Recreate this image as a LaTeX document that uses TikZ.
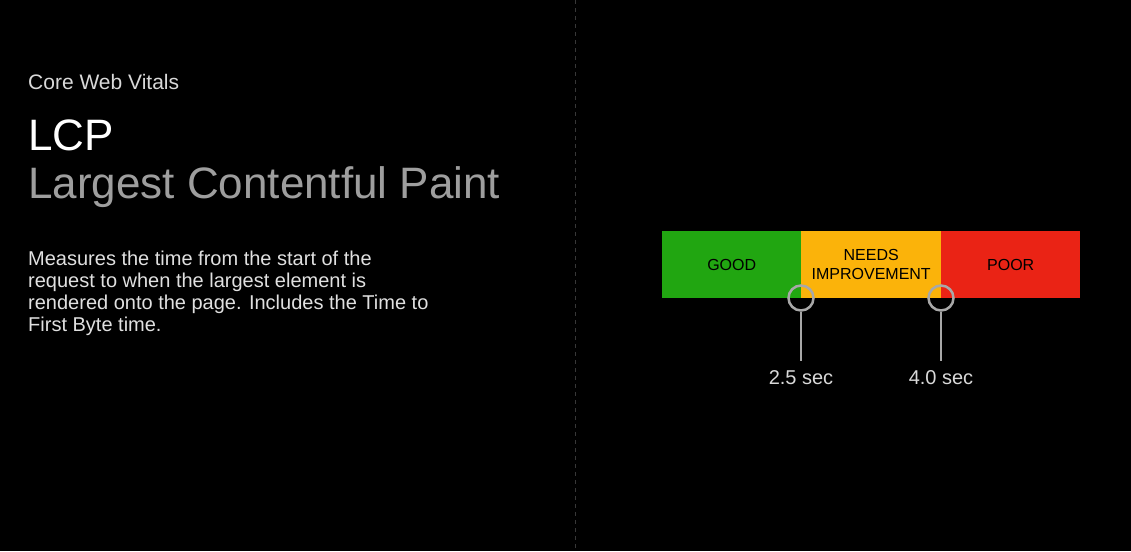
\documentclass[tikz,border=0pt]{standalone}
\usepackage{fontspec}
\setmainfont{Liberation Sans}
\definecolor{good}{HTML}{21A611}
\definecolor{mid}{HTML}{FBB30A}
\definecolor{poor}{HTML}{EA2315}
\definecolor{pin}{HTML}{A8A8A8}
\begin{document}
\begin{tikzpicture}[x=1pt,y=-1pt,
  txt/.style={anchor=base west,inner sep=0pt,text=white},
  seg/.style={draw=none,minimum height=67pt,inner sep=0pt,anchor=north west},
  pinc/.style={circle,draw=pin,line width=2.5pt,minimum size=25pt,inner sep=0pt},
  pinl/.style={draw=pin,line width=2.5pt}]
\fill[black] (0,0) rectangle (1131,551);
\useasboundingbox (0,0) rectangle (1131,551);
\draw[dash pattern=on 4pt off 4pt,color=white!22!black] (575,0) -- (575,551);
\node[txt,text=white!85!black,font=\fontsize{21}{24}\selectfont] (cwv) at (28,89) {Core Web Vitals};
\node[txt,font=\fontsize{44}{48}\selectfont] (lcp) at (28,150) {LCP};
\node[txt,text=white!62!black,font=\fontsize{44}{48}\selectfont] (lcpn) at (28,198) {Largest Contentful Paint};
\node[txt,text=white!88!black,font=\fontsize{20}{22}\selectfont,align=left,anchor=north west] (desc) at (28,251)
 {Measures the time from the start of the\\request to when the largest element is\\rendered onto the page. Includes the Time to\\First Byte time.};
\node[seg,fill=good,minimum width=139pt,font=\fontsize{16}{18}\selectfont] (g) at (662,231) {GOOD};
\node[seg,fill=mid,minimum width=140pt,align=center,font=\fontsize{16}{19}\selectfont] (n) at (801,231) {NEEDS\\IMPROVEMENT};
\node[seg,fill=poor,minimum width=139pt,font=\fontsize{16}{18}\selectfont] (p) at (941,231) {POOR};
\node[pinc] (c1) at (801,298) {};
\node[pinc] (c2) at (941,298) {};
\coordinate (e1) at (801,361);
\coordinate (e2) at (941,361);
\draw[pinl] (c1.south) -- (e1);
\draw[pinl] (c2.south) -- (e2);
\node[txt,anchor=base,text=white!85!black,font=\fontsize{20}{22}\selectfont] (l1) at (801,384) {2.5 sec};
\node[txt,anchor=base,text=white!85!black,font=\fontsize{20}{22}\selectfont] (l2) at (941,384) {4.0 sec};
\end{tikzpicture}
\end{document}
